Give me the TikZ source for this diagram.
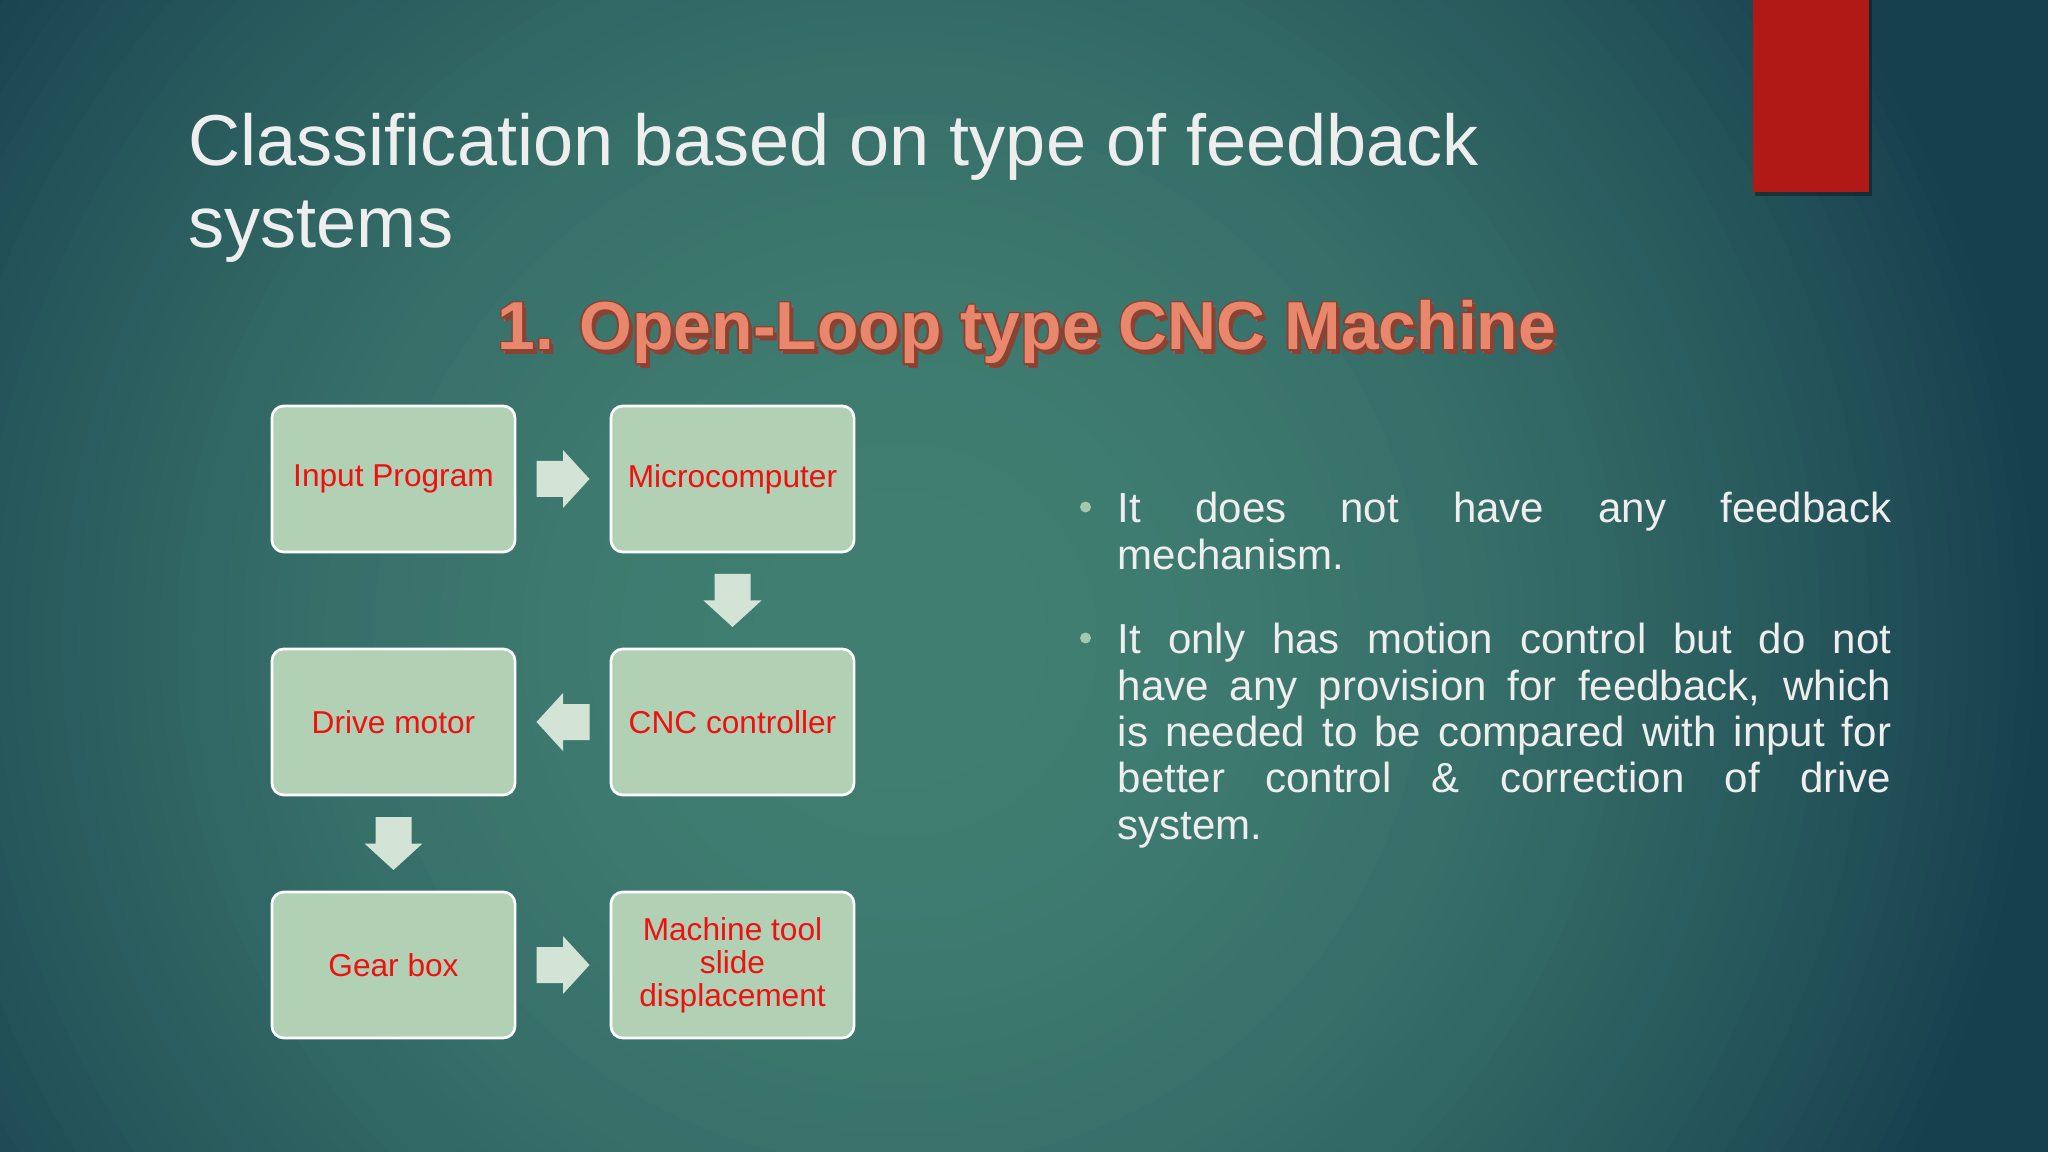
\documentclass[tikz,border=0pt]{standalone}
\usepackage{fontspec}
\setmainfont{Liberation Sans}
\usetikzlibrary{calc}
\definecolor{bgA}{HTML}{417F72}
\definecolor{bgC}{HTML}{17404E}
\definecolor{boxfill}{HTML}{B1D0B4}
\definecolor{boxred}{HTML}{EE1111}
\definecolor{arrowcol}{HTML}{D3E4D6}
\definecolor{titlecol}{HTML}{EEEEEE}
\definecolor{subfill}{HTML}{E8876C}
\definecolor{subdark}{HTML}{8A4232}
\definecolor{subshadow}{HTML}{F0C39E}
\definecolor{accentred}{HTML}{B01916}
\definecolor{bulletcol}{HTML}{A3C9AC}
\tikzset{
  stepbox/.style={rectangle, rounded corners=3.4pt, draw=white, line width=0.75pt,
    fill=boxfill, minimum width=2.43cm, minimum height=1.46cm, inner sep=2pt,
    align=center, text=boxred, font=\fontsize{9pt}{9.4pt}\selectfont},
  titletext/.style={anchor=base west, inner sep=0pt, text=titlecol,
    font=\fontsize{20.5pt}{24pt}\selectfont},
  subt/.style={anchor=base, inner sep=0pt, font=\fontsize{19.3pt}{22pt}\selectfont\bfseries},
  bullettext/.style={anchor=north west, inner sep=0pt, text width=7.73cm, align=justify,
    text=titlecol, font=\fontsize{11.95pt}{13.2pt}\selectfont},
  bulletdot/.style={circle, fill=bulletcol, inner sep=0pt, minimum size=0.11cm},
  blockarr/.pic={\fill[arrowcol] (-26.5,-18) -- (0,-18) -- (0,-29) -- (26.5,0) -- (0,29) -- (0,18) -- (-26.5,18) -- cycle;}
}
\begin{document}
\begin{tikzpicture}[x=0.01cm,y=-0.01cm]
\useasboundingbox (0,0) rectangle (2048,1152);
% background
\begin{scope}
  \clip (0,0) rectangle (2048,1152);
  \fill[bgC] (0,0) rectangle (2048,1152);
  \foreach \i in {0,...,69}{
    \pgfmathsetmacro\rr{11.5*(1-\i/70)}
    \pgfmathtruncatemacro\pp{100*(1-(1-\i/70)^2)}
    \fill[bgA!\pp!bgC] (900,640) circle (\rr cm);
  }
\end{scope}
% red accent
\fill[black, opacity=0.35] (1755,0) rectangle (1872,196);
\fill[accentred] (1753,0) rectangle (1869,192);
% title
\node[titletext] (t1) at (188,166) {Classification based on type of feedback};
\node[titletext] (t2) at (188,248) {systems};
% subtitle
\coordinate (subpos) at (1027,350);
\node[subt, text=subshadow] (subs) at ($(subpos)+(3,4)$) {1. Open-Loop type CNC Machine};
\foreach \dx/\dy [count=\i] in {-1.6/0,1.6/0,0/-1.6,0/1.6,-1.2/-1.2,1.2/1.2,-1.2/1.2,1.2/-1.2,3/4,4/5}
  \node[subt, text=subdark] (subo\i) at ($(subpos)+(\dx,\dy)$) {1. Open-Loop type CNC Machine};
\node[subt, text=subfill] (sub) at (subpos) {1. Open-Loop type CNC Machine};
% boxes
\node[stepbox] (ip) at (393.5,479) {Input Program};
\node[stepbox] (mc) at (732.5,479) {Microcomputer};
\node[stepbox] (cc) at (732.5,722) {CNC controller};
\node[stepbox] (dm) at (393.5,722) {Drive motor};
\node[stepbox] (gb) at (393.5,965) {Gear box};
\node[stepbox] (mt) at (732.5,965) {Machine tool\\slide\\displacement};
% block arrows
\pic at ($(ip.east)!0.5!(mc.west)$) {blockarr};
\pic[rotate=-90] at ($(mc.south)!0.5!(cc.north)$) {blockarr};
\pic[rotate=180] at ($(cc.west)!0.5!(dm.east)$) {blockarr};
\pic[rotate=-90] at ($(dm.south)!0.5!(gb.north)$) {blockarr};
\pic at ($(gb.east)!0.5!(mt.west)$) {blockarr};
% bullets
\node[bulletdot] (d1) at (1085.5,507) {};
\node[bulletdot] (d2) at (1085.5,638) {};
\node[bullettext] (b1) at (1117,489.5) {\tolerance=10000\hbadness=10000\strut It does not have any feedback\linebreak mechanism.};
\node[bullettext] (b2) at (1117,620.5) {\tolerance=10000\hbadness=10000\strut It only has motion control but do not\linebreak have any provision for feedback, which\linebreak is needed to be compared with input for\linebreak better control \& correction of drive\linebreak system.};
\end{tikzpicture}
\end{document}
